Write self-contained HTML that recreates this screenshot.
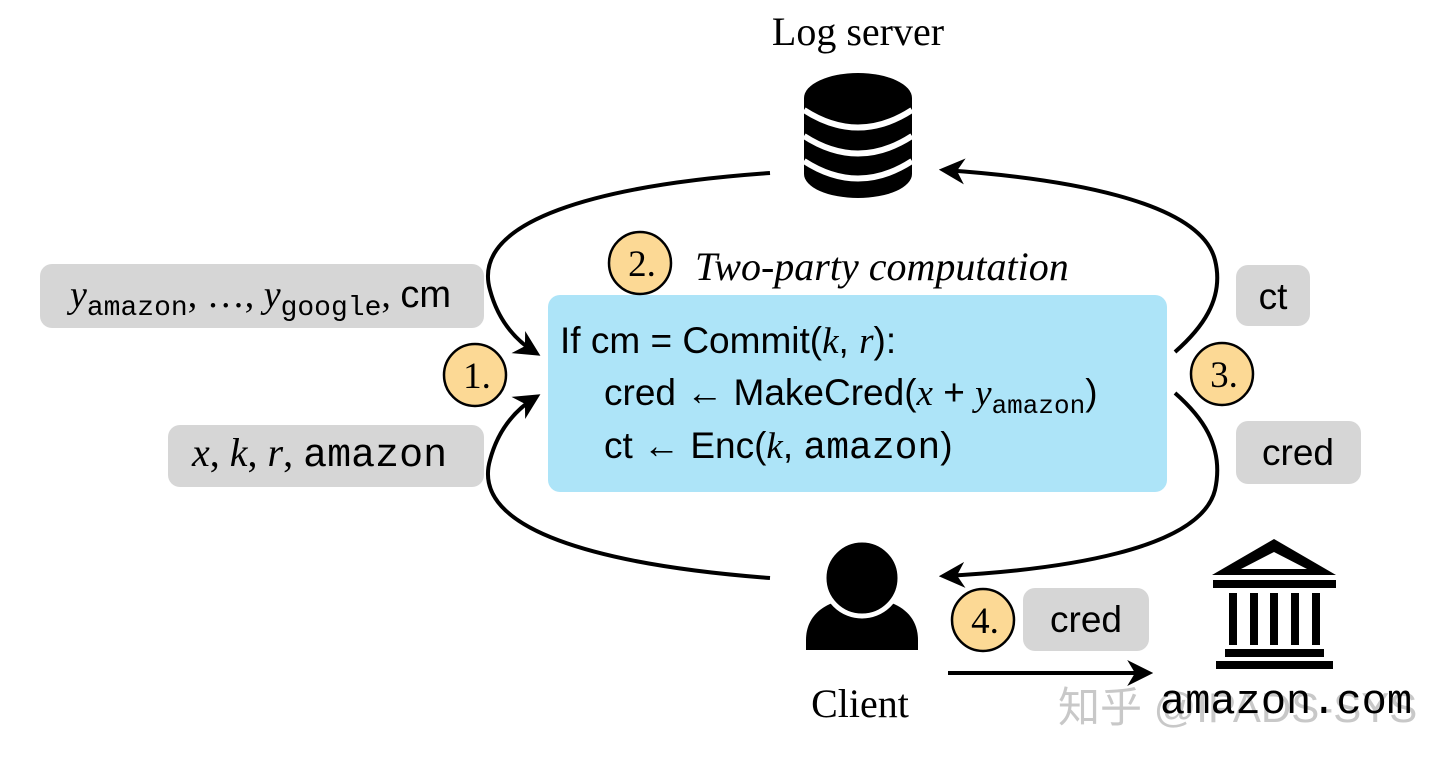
<!DOCTYPE html>
<html><head><meta charset="utf-8"><style>
html,body{margin:0;padding:0;background:#fff;}
svg{display:block}
.s{font-family:"Liberation Serif",serif}
.a{font-family:"Liberation Sans",sans-serif}
.m{font-family:"Liberation Mono",monospace}
</style></head><body>
<svg width="1440" height="769" viewBox="0 0 1440 769" xmlns="http://www.w3.org/2000/svg">
<defs>
<marker id="ah" viewBox="0 0 10 10" refX="8" refY="5" markerWidth="6.5" markerHeight="6.5" orient="auto-start-reverse" markerUnits="strokeWidth">
<path d="M0,0 L10,5 L0,10 L3,5 z" fill="#000"/></marker>
</defs>
<text x="858" y="45" class="s" font-size="40" text-anchor="middle">Log server</text>
<!-- database -->
<path d="M804,98 A54,25 0 0 1 912,98 L912,174 A54,24 0 0 1 804,174 Z" fill="#000"/>
<g fill="none" stroke="#fff" stroke-width="6">
<path d="M804,110 Q858,145 912,110"/>
<path d="M804,136 Q858,171 912,136"/>
<path d="M804,161 Q858,196 912,161"/>
</g>
<!-- arrows -->
<g fill="none" stroke="#000" stroke-width="4">
<path d="M770,173 C600,185 470,220 490,290 C498,320 515,340 536,353" marker-end="url(#ah)"/>
<path d="M770,578 C600,565 470,530 490,460 C498,430 515,410 536,397" marker-end="url(#ah)"/>
<path d="M1175,352 C1200,330 1225,300 1215,260 C1200,200 1060,178 944,170" marker-end="url(#ah)"/>
<path d="M1175,393 C1200,415 1225,445 1215,490 C1200,550 1060,570 944,576" marker-end="url(#ah)"/>
<path d="M948,673 L1148,673" marker-end="url(#ah)"/>
</g>
<!-- blue box -->
<rect x="548" y="295" width="619" height="197" rx="12" fill="#ade4f8"/>
<text x="560" y="353" font-size="37"><tspan class="a">If cm = Commit(</tspan><tspan class="s" font-style="italic">k</tspan><tspan class="a">, </tspan><tspan class="s" font-style="italic">r</tspan><tspan class="a">):</tspan></text>
<text x="604" y="405" font-size="37"><tspan class="a">cred ← MakeCred(</tspan><tspan class="s" font-style="italic">x</tspan><tspan class="a"> + </tspan><tspan class="s" font-style="italic">y</tspan><tspan class="m" font-size="26" dy="8">amazon</tspan><tspan class="a" dy="-8">)</tspan></text>
<text x="604" y="458" font-size="37"><tspan class="a">ct ← Enc(</tspan><tspan class="s" font-style="italic">k</tspan><tspan class="a">, </tspan><tspan class="m" font-size="38">amazon</tspan><tspan class="a">)</tspan></text>
<text x="695" y="280" class="s" font-size="40" font-style="italic">Two-party computation</text>
<!-- gray pills -->
<g fill="#d6d6d6">
<rect x="40" y="264" width="444" height="64" rx="12"/>
<rect x="168" y="425" width="316" height="62" rx="12"/>
<rect x="1236" y="265" width="74" height="61" rx="12"/>
<rect x="1236" y="421" width="125" height="63" rx="12"/>
<rect x="1023" y="588" width="126" height="63" rx="12"/>
</g>
<text x="70" y="307" font-size="38"><tspan class="s" font-style="italic">y</tspan><tspan class="m" font-size="28" dy="8">amazon</tspan><tspan class="s" dy="-8">, …, </tspan><tspan class="s" font-style="italic">y</tspan><tspan class="m" font-size="28" dy="8">google</tspan><tspan class="s" dy="-8">, </tspan><tspan class="a">cm</tspan></text>
<text x="192" y="466" font-size="40"><tspan class="s" font-style="italic">x</tspan><tspan class="s">, </tspan><tspan class="s" font-style="italic">k</tspan><tspan class="s">, </tspan><tspan class="s" font-style="italic">r</tspan><tspan class="s">, </tspan><tspan class="m" font-size="40">amazon</tspan></text>
<text x="1273" y="309" class="a" font-size="37" text-anchor="middle">ct</text>
<text x="1298" y="465" class="a" font-size="37" text-anchor="middle">cred</text>
<text x="1086" y="632" class="a" font-size="37" text-anchor="middle">cred</text>
<!-- circles -->
<g fill="#fcd995" stroke="#000" stroke-width="2.5">
<circle cx="475" cy="375" r="31"/><circle cx="640" cy="263" r="31"/>
<circle cx="1222" cy="374" r="31"/><circle cx="983" cy="620" r="31"/>
</g>
<g class="s" font-size="37" text-anchor="middle">
<text x="477" y="388">1.</text><text x="642" y="276">2.</text>
<text x="1224" y="387">3.</text><text x="985" y="633">4.</text>
</g>
<!-- client -->
<path d="M806,650 L806,640 C806,612 830,598 862,598 C894,598 918,612 918,640 L918,650 Z" fill="#000"/>
<circle cx="862" cy="578" r="38" fill="#000" stroke="#fff" stroke-width="5"/>
<text x="860" y="717" class="s" font-size="40" text-anchor="middle">Client</text>
<!-- bank -->
<g fill="#000">
<path d="M1274,539 L1336,575 L1212,575 Z"/>
<path d="M1274,552 L1307,569 L1241,569 Z" fill="#fff"/>
<rect x="1213" y="580" width="123" height="8"/>
<rect x="1229" y="593" width="8" height="52"/><rect x="1250" y="593" width="8" height="52"/>
<rect x="1270" y="593" width="8" height="52"/><rect x="1291" y="593" width="8" height="52"/>
<rect x="1312" y="593" width="8" height="52"/>
<rect x="1225" y="649" width="99" height="8"/>
<rect x="1216" y="661" width="117" height="8"/>
</g>
<text x="1058" y="722" font-size="42" fill="#c8c8c8" font-family="Liberation Sans, Noto Sans CJK SC, sans-serif">知乎 @IPADS-SYS</text>
<text x="1160" y="713" class="m" font-size="42">amazon.com</text>
</svg>
</body></html>
